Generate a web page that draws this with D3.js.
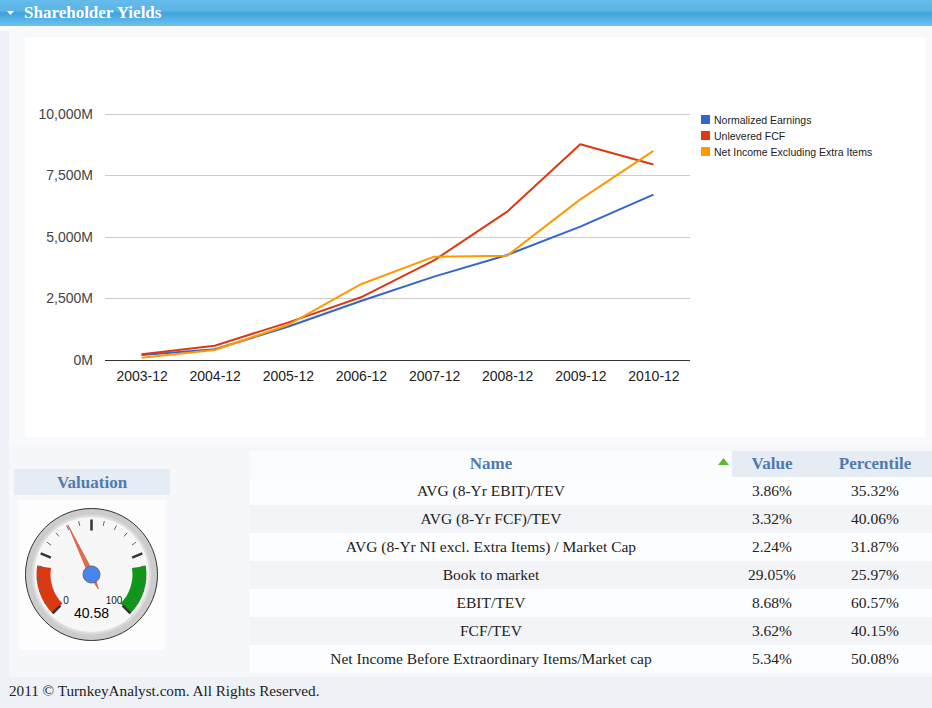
<!DOCTYPE html>
<html>
<head>
<meta charset="utf-8">
<script src="https://cdn.jsdelivr.net/npm/d3@7"></script>
<style>
  html, body { margin: 0; padding: 0; background: #eef2f6; }
  svg { display: block; }
  .serif { font-family: Georgia, "Liberation Serif", "DejaVu Serif", serif; }
  .sans { font-family: Arial, "Liberation Sans", sans-serif; }
</style>
</head>
<body>
<svg id="page" width="932" height="708"></svg>
<script>
// chart data
const periods = ['2003-12', '2004-12', '2005-12', '2006-12', '2007-12', '2008-12', '2009-12', '2010-12'];
const normalizedEarnings = [205, 435, 1350, 2400, 3390, 4270, 5420, 6720];
const unleveredFCF = [230, 580, 1520, 2550, 4050, 6030, 8770, 7950];
const netIncomeExcl = [95, 405, 1420, 3080, 4200, 4240, 6530, 8500];
const seriesNames = ['Normalized Earnings', 'Unlevered FCF', 'Net Income Excluding Extra Items'];
const seriesColors = ['#3366cc', '#dc3912', '#ff9900'];
const yTicks = [0, 2500, 5000, 7500, 10000];

// table data
const metricNames = ['AVG (8-Yr EBIT)/TEV', 'AVG (8-Yr FCF)/TEV', 'AVG (8-Yr NI excl. Extra Items) / Market Cap',
  'Book to market', 'EBIT/TEV', 'FCF/TEV', 'Net Income Before Extraordinary Items/Market cap'];
const metricValues = ['3.86%', '3.32%', '2.24%', '29.05%', '8.68%', '3.62%', '5.34%'];
const metricPercentiles = ['35.32%', '40.06%', '31.87%', '25.97%', '60.57%', '40.15%', '50.08%'];
const tableHeaders = ['Name', 'Value', 'Percentile'];

// gauge data
const valuationScore = 40.58;
const redBand = [0, 20];
const greenBand = [80, 100];

const svg = d3.select('#page');

// ---- header bar
const defs = svg.append('defs');
const hg = defs.append('linearGradient').attr('id', 'hdr').attr('x1', 0).attr('x2', 0).attr('y1', 0).attr('y2', 1);
hg.append('stop').attr('offset', '0%').attr('stop-color', '#65bbea');
hg.append('stop').attr('offset', '40%').attr('stop-color', '#5db5e6');
hg.append('stop').attr('offset', '50%').attr('stop-color', '#3fa3dd');
hg.append('stop').attr('offset', '100%').attr('stop-color', '#6ec2ee');

svg.append('rect').attr('width', 932).attr('height', 26).attr('fill', 'url(#hdr)');
svg.append('path').attr('d', 'M7,11 L14,11 L10.5,15 Z').attr('fill', '#fff');
svg.append('text').attr('class', 'serif').attr('x', 24).attr('y', 17.5)
  .attr('fill', '#fff').attr('font-size', 17).attr('font-weight', 'bold')
  .text('Shareholder Yields');

// ---- panels
svg.append('rect').attr('x', 0).attr('y', 26).attr('width', 932).attr('height', 5).attr('fill', '#f8fafc');
svg.append('rect').attr('x', 9).attr('y', 31).attr('width', 923).attr('height', 415).attr('fill', '#f8f9fb');
svg.append('rect').attr('x', 25).attr('y', 37).attr('width', 900).attr('height', 400).attr('fill', '#ffffff');
svg.append('rect').attr('x', 9).attr('y', 446).attr('width', 923).attr('height', 231).attr('fill', '#f5f7fa');

// ---- line chart
const plot = { left: 105, right: 690, top: 114, bottom: 360 };
const x = d3.scalePoint().domain(periods).range([plot.left, plot.right]).padding(0.5);
const y = d3.scaleLinear().domain([0, 10000]).range([plot.bottom, plot.top]);

const chart = svg.append('g').attr('class', 'sans');

chart.append('g')
  .selectAll('line').data(yTicks.filter(d => d > 0)).join('line')
  .attr('x1', plot.left).attr('x2', plot.right)
  .attr('y1', d => y(d)).attr('y2', d => y(d))
  .attr('stroke', '#cccccc').attr('stroke-width', 1).attr('shape-rendering', 'crispEdges');

const yAxis = chart.append('g').attr('transform', `translate(${plot.left},0)`)
  .call(d3.axisLeft(y).tickValues(yTicks).tickSize(0).tickPadding(12).tickFormat(d => d3.format(',')(d) + 'M'));
yAxis.select('.domain').remove();
yAxis.selectAll('text').attr('font-size', 14).attr('fill', '#444').attr('font-family', 'Arial, "Liberation Sans", sans-serif');

const xAxis = chart.append('g').attr('transform', `translate(0,${plot.bottom})`)
  .call(d3.axisBottom(x).tickSize(0).tickPadding(11));
xAxis.select('.domain').attr('stroke', '#333').attr('d', `M${plot.left},0.5H${plot.right}`);
xAxis.selectAll('text').attr('font-size', 14).attr('fill', '#222').attr('font-family', 'Arial, "Liberation Sans", sans-serif');

const line = d3.line().x((d, i) => x(periods[i])).y(d => y(d));
[normalizedEarnings, unleveredFCF, netIncomeExcl].forEach((s, i) => {
  chart.append('path').datum(s).attr('d', line)
    .attr('fill', 'none').attr('stroke', seriesColors[i]).attr('stroke-width', 2)
    .attr('stroke-linejoin', 'round');
});

// legend
const legend = chart.append('g').attr('transform', 'translate(701,115)');
const li = legend.selectAll('g').data(seriesNames).join('g')
  .attr('transform', (d, i) => `translate(0,${i * 16})`);
li.append('rect').attr('width', 9).attr('height', 9).attr('fill', (d, i) => seriesColors[i]);
li.append('text').attr('x', 13).attr('y', 8.5).attr('font-size', 10.5).attr('fill', '#222').text(d => d);

// ---- valuation gauge
svg.append('rect').attr('x', 14).attr('y', 469).attr('width', 156).attr('height', 26).attr('fill', '#e6ecf3');
svg.append('text').attr('class', 'serif').attr('x', 92).attr('y', 487.5).attr('text-anchor', 'middle')
  .attr('font-size', 17).attr('font-weight', 'bold').attr('fill', '#4f7bb0').text('Valuation');
svg.append('rect').attr('x', 19).attr('y', 500).attr('width', 146).attr('height', 150).attr('fill', '#fdfdfe');

const gauge = svg.append('g').attr('transform', 'translate(91.5,574.5)');
const ang = d3.scaleLinear().domain([0, 100]).range([-135, 135]);
const rad = d => ang(d) * Math.PI / 180;

gauge.append('circle').attr('r', 66).attr('fill', '#cccccc').attr('stroke', '#333').attr('stroke-width', 1);
gauge.append('circle').attr('r', 60).attr('fill', '#dadada');
gauge.append('circle').attr('r', 58).attr('fill', '#f7f7f7').attr('stroke', '#e0e0e0').attr('stroke-width', 1);

const band = d3.arc().innerRadius(41).outerRadius(55);
gauge.append('path').attr('d', band({ startAngle: rad(redBand[0]), endAngle: rad(redBand[1]) })).attr('fill', '#dc3912');
gauge.append('path').attr('d', band({ startAngle: rad(greenBand[0]), endAngle: rad(greenBand[1]) })).attr('fill', '#109618');

const minorTicks = d3.range(0, 101, 5).filter(d => d % 25 !== 0);
const majorTicks = d3.range(0, 101, 25);
const tickLine = (g, data, r0, r1, color, w) => g.append('g').selectAll('line').data(data).join('line')
  .attr('x1', d => Math.sin(rad(d)) * r0).attr('y1', d => -Math.cos(rad(d)) * r0)
  .attr('x2', d => Math.sin(rad(d)) * r1).attr('y2', d => -Math.cos(rad(d)) * r1)
  .attr('stroke', color).attr('stroke-width', w);
tickLine(gauge, minorTicks, 50, 55, '#666', 1);
tickLine(gauge, majorTicks, 44, 55, '#333', 2.5);

gauge.append('text').attr('class', 'sans').attr('x', -25.5).attr('y', 29).attr('font-size', 10)
  .attr('text-anchor', 'middle').attr('fill', '#222').text('0');
gauge.append('text').attr('class', 'sans').attr('x', 22.5).attr('y', 29).attr('font-size', 10)
  .attr('text-anchor', 'middle').attr('fill', '#222').text('100');
gauge.append('text').attr('class', 'sans').attr('x', 0).attr('y', 43.5).attr('font-size', 14)
  .attr('text-anchor', 'middle').attr('fill', '#000').text(d3.format('.2f')(valuationScore));

const needle = gauge.append('g').attr('transform', `rotate(${ang(valuationScore)})`);
needle.append('path').attr('d', 'M0,-55 L2.6,0 L0,16 L-2.6,0 Z')
  .attr('fill', '#e0542e').attr('fill-opacity', 0.85).attr('stroke', '#c9401f').attr('stroke-width', 0.5);
gauge.append('circle').attr('r', 8.5).attr('fill', '#4684ee').attr('stroke', '#666').attr('stroke-width', 1);

// ---- metrics table
const tbl = svg.append('g').attr('class', 'serif');
const colX = [491, 772, 875];
const rowH = 28, headTop = 451, bodyTop = 477;

tbl.append('rect').attr('x', 250).attr('y', headTop).attr('width', 482).attr('height', 26).attr('fill', '#fbfcfe');
tbl.append('rect').attr('x', 732).attr('y', headTop).attr('width', 200).attr('height', 26).attr('fill', '#e6ecf3');
tbl.append('path').attr('d', 'M718,465 L729,465 L723.5,458 Z').attr('fill', '#5cb82e');
tbl.selectAll('text.head').data(tableHeaders).join('text').attr('class', 'head')
  .attr('x', (d, i) => colX[i]).attr('y', headTop + 18).attr('text-anchor', 'middle')
  .attr('font-size', 17).attr('font-weight', 'bold').attr('fill', '#4f7bb0').text(d => d);

const rows = tbl.selectAll('g.row').data(metricNames).join('g').attr('class', 'row')
  .attr('transform', (d, i) => `translate(0,${bodyTop + i * rowH})`);
rows.append('rect').attr('x', 250).attr('width', 682).attr('height', rowH)
  .attr('fill', (d, i) => i % 2 ? '#f2f4f8' : '#fcfdfe');
rows.append('text').attr('x', colX[0]).attr('y', 19).attr('text-anchor', 'middle')
  .attr('font-size', 15.5).attr('fill', '#222').text(d => d);
rows.append('text').attr('x', colX[1]).attr('y', 19).attr('text-anchor', 'middle')
  .attr('font-size', 15.5).attr('fill', '#222').text((d, i) => metricValues[i]);
rows.append('text').attr('x', colX[2]).attr('y', 19).attr('text-anchor', 'middle')
  .attr('font-size', 15.5).attr('fill', '#222').text((d, i) => metricPercentiles[i]);

// ---- footer
svg.append('text').attr('class', 'serif').attr('x', 9).attr('y', 696)
  .attr('font-size', 15.2).attr('fill', '#222').text('2011 \u00A9 TurnkeyAnalyst.com. All Rights Reserved.');
</script>
</body>
</html>
